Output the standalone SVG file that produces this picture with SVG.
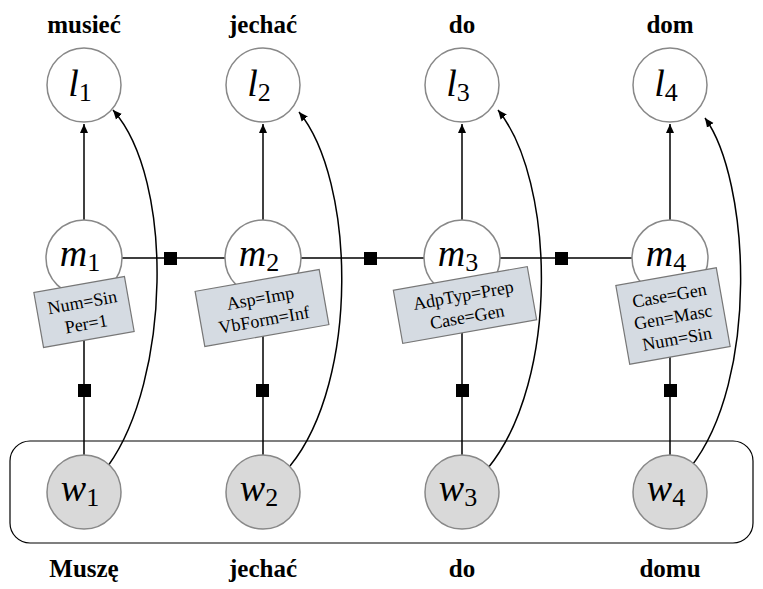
<svg xmlns="http://www.w3.org/2000/svg" width="763" height="589" viewBox="0 0 763 589">
<style>
.c{fill:#fff;stroke:#888;stroke-width:1.5}
.g{fill:#d9d9d9;stroke:#888;stroke-width:1.5}
.e{stroke:#000;stroke-width:1.5;fill:none}
.b{fill:#d5dbe2;stroke:#777;stroke-width:1.2}
.f{fill:#000}
.v{font-family:"Liberation Serif",serif;font-style:italic;font-size:38px;text-anchor:middle}
.t{font-family:"Liberation Serif",serif;font-size:18px;text-anchor:middle}
.w{font-family:"Liberation Serif",serif;font-weight:bold;font-size:25px;text-anchor:middle}
</style>
<defs><marker id="a" markerWidth="10" markerHeight="10" refX="9" refY="5" orient="auto" markerUnits="userSpaceOnUse"><path d="M0,1 L9,5 L0,9 Z" fill="#000"/></marker></defs>
<rect x="10" y="441" width="743" height="102" rx="20" fill="none" stroke="#000" stroke-width="1.2"/>
<g id="connectors">
<path class="e" d="M84,220 V124" marker-end="url(#a)"/>
<path class="e" d="M263,220 V124" marker-end="url(#a)"/>
<path class="e" d="M462,220 V124" marker-end="url(#a)"/>
<path class="e" d="M670,220 V124" marker-end="url(#a)"/>
<path class="e" d="M122,258 H225 M301,258 H424 M500,258 H632"/>
<path class="e" d="M84,455 V330 M263,455 V330 M462,455 V330 M670,455 V340"/>
<path class="e" d="M108,466 C170,380 175,180 113,110" marker-end="url(#a)"/>
<path class="e" d="M290,466 C360,380 355,180 299,112" marker-end="url(#a)"/>
<path class="e" d="M488,468 C560,380 555,180 498,110" marker-end="url(#a)"/>
<path class="e" d="M690,468 C760,380 750,180 705,118" marker-end="url(#a)"/>
<rect class="f" x="164" y="252" width="13" height="13"/>
<rect class="f" x="364" y="252" width="13" height="13"/>
<rect class="f" x="555" y="252" width="13" height="13"/>
<rect class="f" x="78" y="384" width="13" height="13"/>
<rect class="f" x="256" y="384" width="13" height="13"/>
<rect class="f" x="456" y="384" width="13" height="13"/>
<rect class="f" x="664" y="384" width="13" height="13"/>
</g>
<g id="l1"><text class="w" x="84" y="33">musieć</text><circle class="c" cx="84" cy="85" r="37"/><text class="v" x="80" y="96">l<tspan font-style="normal" font-size="26" dy="5">1</tspan></text></g>
<g id="l2"><text class="w" x="263" y="33">jechać</text><circle class="c" cx="263" cy="85" r="37"/><text class="v" x="259" y="96">l<tspan font-style="normal" font-size="26" dy="5">2</tspan></text></g>
<g id="l3"><text class="w" x="462" y="33">do</text><circle class="c" cx="462" cy="85" r="37"/><text class="v" x="458" y="96">l<tspan font-style="normal" font-size="26" dy="5">3</tspan></text></g>
<g id="l4"><text class="w" x="670" y="33">dom</text><circle class="c" cx="670" cy="85" r="37"/><text class="v" x="666" y="96">l<tspan font-style="normal" font-size="26" dy="5">4</tspan></text></g>
<g id="m1"><circle class="c" cx="84" cy="258" r="38"/><text class="v" x="80" y="266">m<tspan font-style="normal" font-size="26" dy="5">1</tspan></text>
<g transform="translate(84,312) rotate(-10)"><rect class="b" x="-46" y="-28" width="92" height="56"/><text class="t" x="0" y="-4">Num=Sin</text><text class="t" x="0" y="18">Per=1</text></g></g>
<g id="m2"><circle class="c" cx="263" cy="258" r="38"/><text class="v" x="259" y="266">m<tspan font-style="normal" font-size="26" dy="5">2</tspan></text>
<g transform="translate(262,308) rotate(-10)"><rect class="b" x="-63" y="-28" width="126" height="56"/><text class="t" x="0" y="-4">Asp=Imp</text><text class="t" x="0" y="18">VbForm=Inf</text></g></g>
<g id="m3"><circle class="c" cx="462" cy="258" r="38"/><text class="v" x="458" y="266">m<tspan font-style="normal" font-size="26" dy="5">3</tspan></text>
<g transform="translate(465,305) rotate(-10)"><rect class="b" x="-68" y="-27" width="136" height="54"/><text class="t" x="0" y="-4">AdpTyp=Prep</text><text class="t" x="0" y="18">Case=Gen</text></g></g>
<g id="m4"><circle class="c" cx="670" cy="258" r="38"/><text class="v" x="666" y="266">m<tspan font-style="normal" font-size="26" dy="5">4</tspan></text>
<g transform="translate(673,316) rotate(-10)"><rect class="b" x="-51" y="-40" width="102" height="80"/><text class="t" x="0" y="-15">Case=Gen</text><text class="t" x="0" y="7">Gen=Masc</text><text class="t" x="0" y="29">Num=Sin</text></g></g>
<g id="w1"><circle class="g" cx="84" cy="492" r="37"/><text class="v" x="80" y="501">w<tspan font-style="normal" font-size="26" dy="5">1</tspan></text><text class="w" x="84" y="577">Muszę</text></g>
<g id="w2"><circle class="g" cx="263" cy="492" r="37"/><text class="v" x="259" y="501">w<tspan font-style="normal" font-size="26" dy="5">2</tspan></text><text class="w" x="263" y="577">jechać</text></g>
<g id="w3"><circle class="g" cx="462" cy="492" r="37"/><text class="v" x="458" y="501">w<tspan font-style="normal" font-size="26" dy="5">3</tspan></text><text class="w" x="462" y="577">do</text></g>
<g id="w4"><circle class="g" cx="670" cy="492" r="37"/><text class="v" x="666" y="501">w<tspan font-style="normal" font-size="26" dy="5">4</tspan></text><text class="w" x="670" y="577">domu</text></g>
</svg>
